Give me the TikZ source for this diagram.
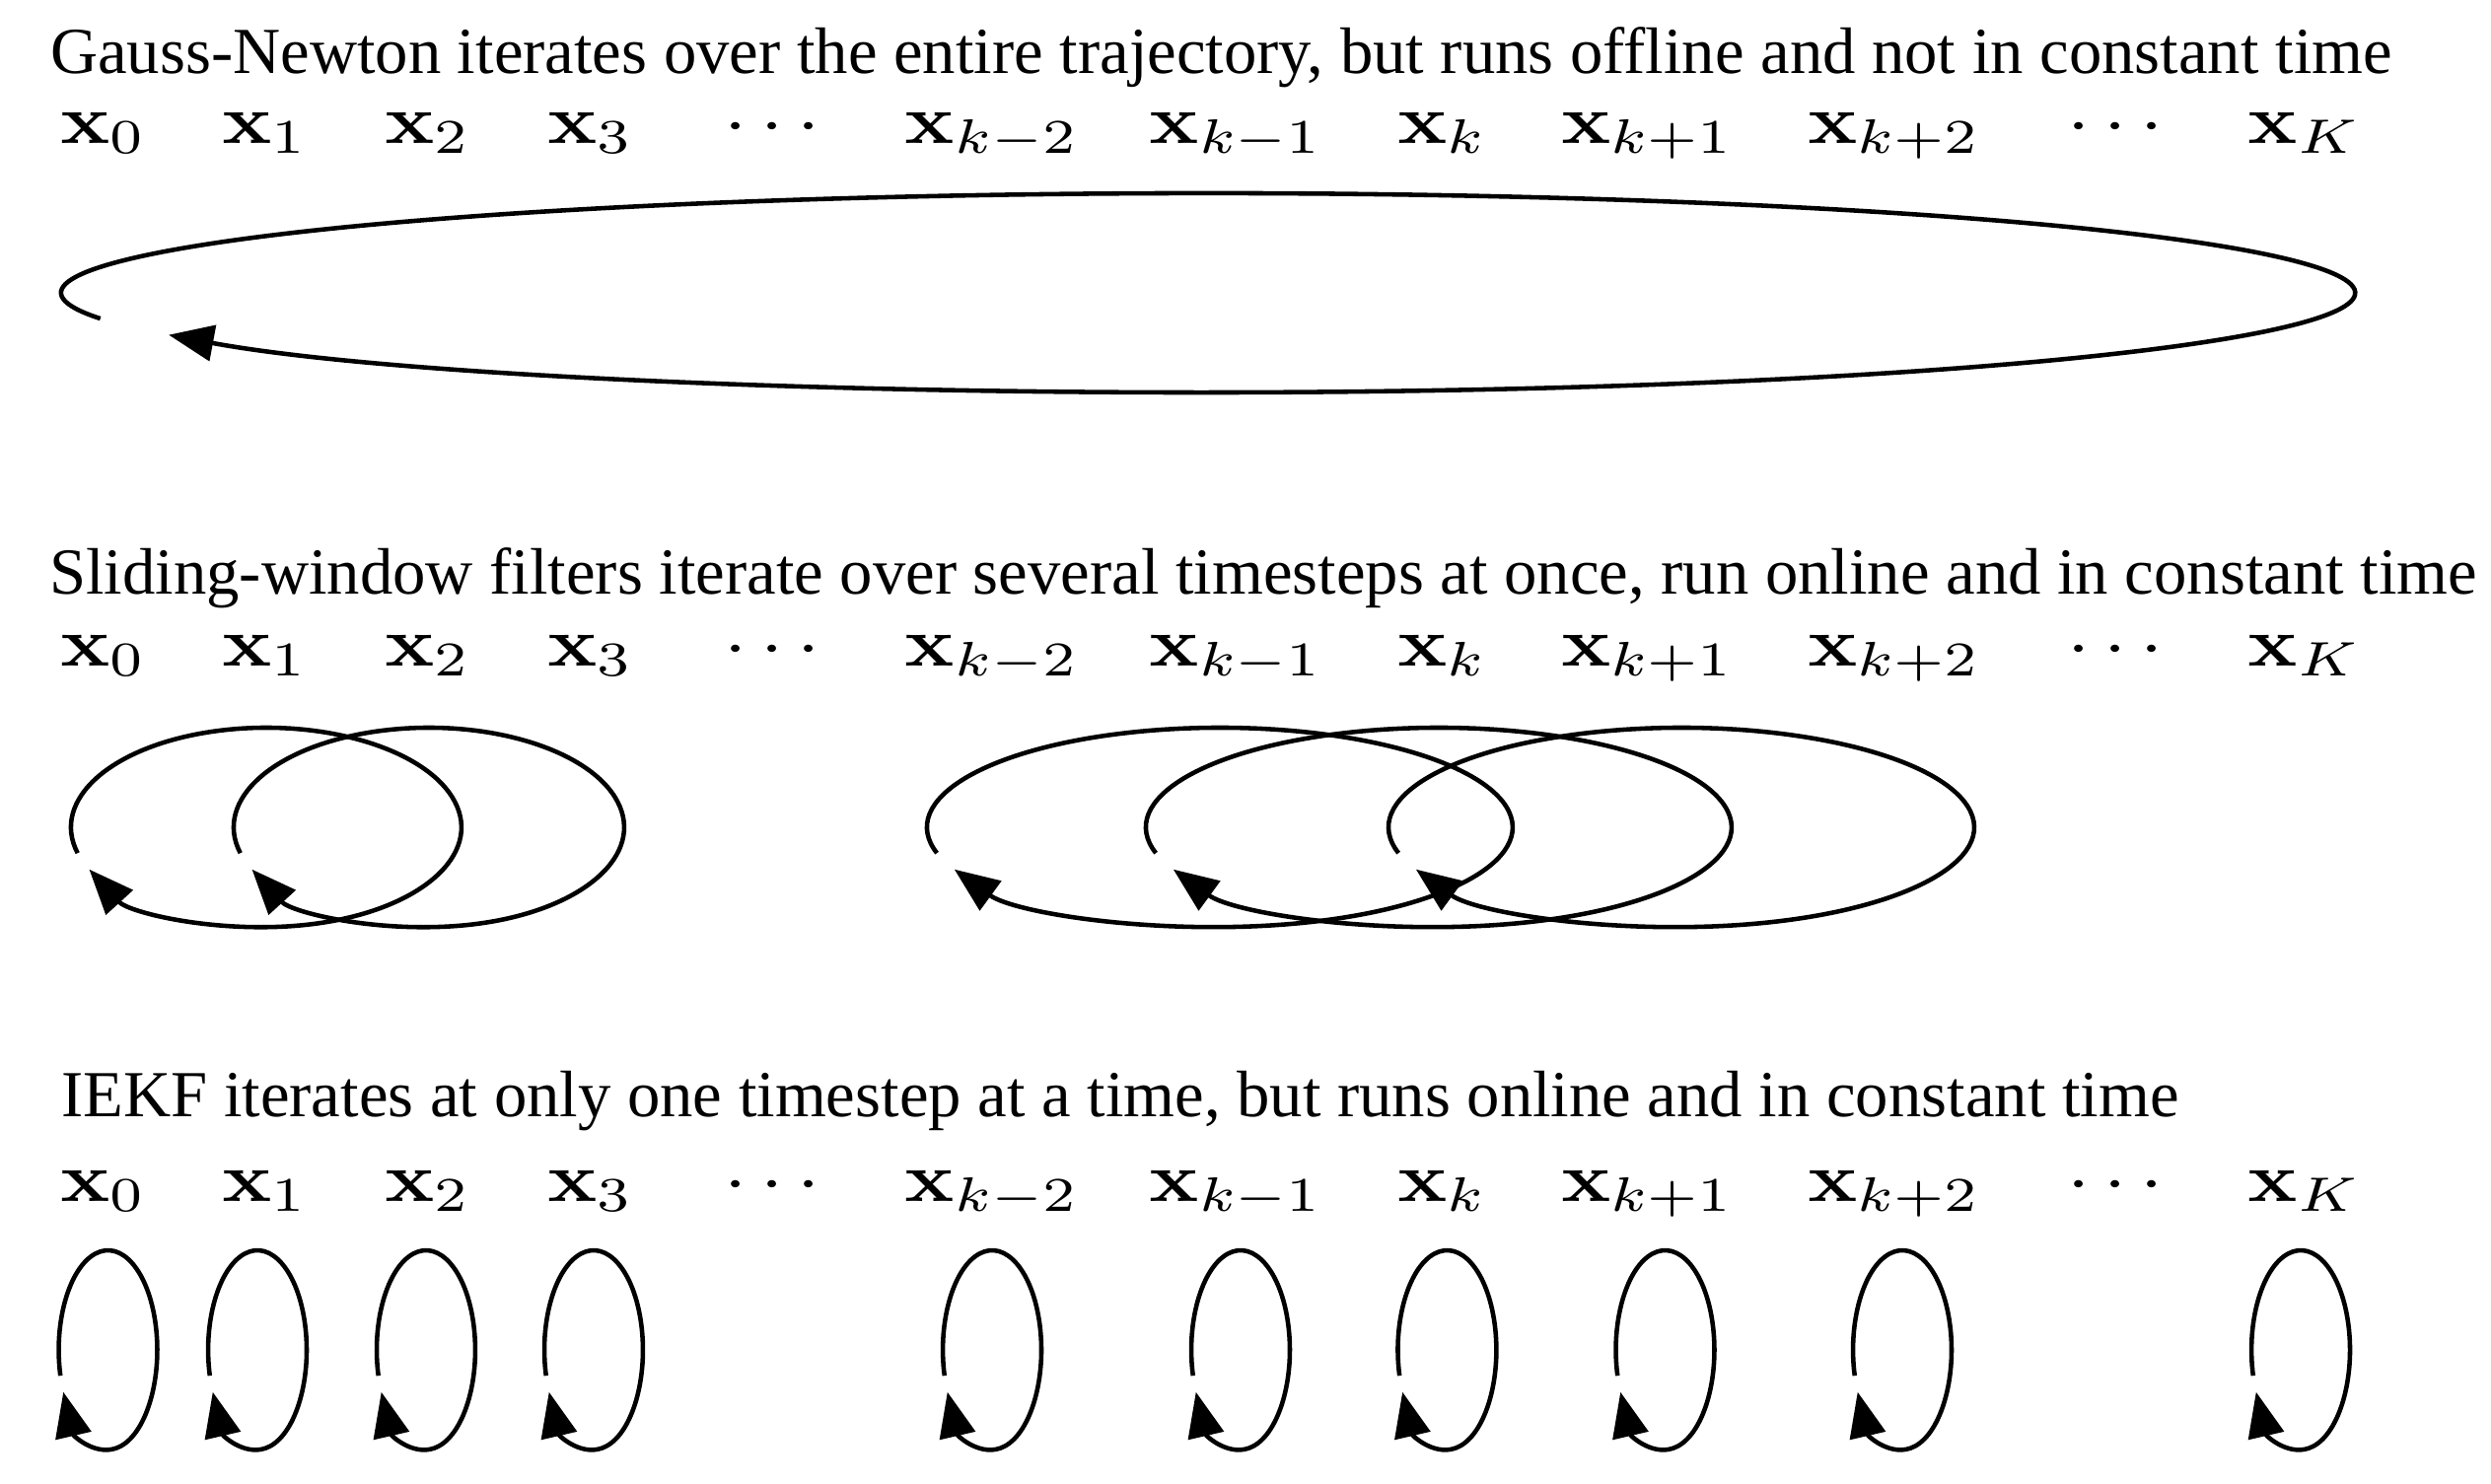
\documentclass[tikz,border=0pt]{standalone}
\usepackage{amsmath}
\usepackage[no-math]{fontspec}
\setmainfont{Liberation Serif}
\usepackage{graphicx}
\usetikzlibrary{arrows.meta}

\newcommand{\xs}[1]{\scalebox{1.28}[1.08]{$\mathbf{x}_{#1}$}}
\newcommand{\dts}{\scalebox{1.28}[1.08]{$\smash{\cdots}$}}
\newcommand{\iterloop}[2]{% centre, x radius
  \draw[iter] (#1) ++(195:#2cm and 0.546cm)
    arc[start angle=195,delta angle=-350,x radius=#2,y radius=0.546];}

\begin{document}
\begin{tikzpicture}[font=\fontsize{10.25}{12}\selectfont,
    iter/.style={line width=0.7pt,-{Triangle[length=7pt,width=5.6pt]}},
    lbl/.style={anchor=base,inner sep=0pt},
    ttl/.style={anchor=base west,inner sep=0pt}]
  \useasboundingbox (0,0) rectangle (13.654,-8.130);

  % Gauss-Newton
  \node[ttl] (gn) at (0.270,-0.400) {Gauss-Newton iterates over the entire trajectory, but runs offline and not in constant time};
  \node[lbl] (gn0) at (0.568,-0.784) {\xs{0}};
  \node[lbl] (gn1) at (1.454,-0.784) {\xs{1}};
  \node[lbl] (gn2) at (2.346,-0.784) {\xs{2}};
  \node[lbl] (gn3) at (3.238,-0.784) {\xs{3}};
  \node[lbl] (gnd1) at (4.232,-0.784) {\dts};
  \node[lbl] (gnkm2) at (5.438,-0.784) {\xs{k-2}};
  \node[lbl] (gnkm1) at (6.778,-0.784) {\xs{k-1}};
  \node[lbl] (gnk) at (7.908,-0.784) {\xs{k}};
  \node[lbl] (gnkp1) at (9.032,-0.784) {\xs{k+1}};
  \node[lbl] (gnkp2) at (10.384,-0.784) {\xs{k+2}};
  \node[lbl] (gnd2) at (11.595,-0.784) {\dts};
  \node[lbl] (gnK) at (12.632,-0.784) {\xs{K}};
  \iterloop{6.622,-1.605}{6.286}

  % sliding window
  \node[ttl] (sw) at (0.265,-3.259) {Sliding-window filters iterate over several timesteps at once, run online and in constant time};
  \node[lbl] (sw0) at (0.568,-3.649) {\xs{0}};
  \node[lbl] (sw1) at (1.454,-3.649) {\xs{1}};
  \node[lbl] (sw2) at (2.346,-3.649) {\xs{2}};
  \node[lbl] (sw3) at (3.238,-3.649) {\xs{3}};
  \node[lbl] (swd1) at (4.232,-3.649) {\dts};
  \node[lbl] (swkm2) at (5.438,-3.649) {\xs{k-2}};
  \node[lbl] (swkm1) at (6.778,-3.649) {\xs{k-1}};
  \node[lbl] (swk) at (7.908,-3.649) {\xs{k}};
  \node[lbl] (swkp1) at (9.032,-3.649) {\xs{k+1}};
  \node[lbl] (swkp2) at (10.384,-3.649) {\xs{k+2}};
  \node[lbl] (swd2) at (11.595,-3.649) {\dts};
  \node[lbl] (swK) at (12.632,-3.649) {\xs{K}};
  \iterloop{1.459,-4.535}{1.070}
  \iterloop{2.351,-4.535}{1.070}
  \iterloop{6.686,-4.535}{1.605}
  \iterloop{7.886,-4.535}{1.605}
  \iterloop{9.216,-4.535}{1.605}

  % IEKF
  \node[ttl] (ie) at (0.330,-6.124) {IEKF iterates at only one timestep at a time, but runs online and in constant time};
  \node[lbl] (ie0) at (0.568,-6.584) {\xs{0}};
  \node[lbl] (ie1) at (1.454,-6.584) {\xs{1}};
  \node[lbl] (ie2) at (2.346,-6.584) {\xs{2}};
  \node[lbl] (ie3) at (3.238,-6.584) {\xs{3}};
  \node[lbl] (ied1) at (4.232,-6.584) {\dts};
  \node[lbl] (iekm2) at (5.438,-6.584) {\xs{k-2}};
  \node[lbl] (iekm1) at (6.778,-6.584) {\xs{k-1}};
  \node[lbl] (iek) at (7.908,-6.584) {\xs{k}};
  \node[lbl] (iekp1) at (9.032,-6.584) {\xs{k+1}};
  \node[lbl] (iekp2) at (10.384,-6.584) {\xs{k+2}};
  \node[lbl] (ied2) at (11.595,-6.584) {\dts};
  \node[lbl] (ieK) at (12.632,-6.584) {\xs{K}};
  \iterloop{0.592,-7.400}{0.270}
  \iterloop{1.411,-7.400}{0.270}
  \iterloop{2.335,-7.400}{0.270}
  \iterloop{3.254,-7.400}{0.270}
  \iterloop{5.438,-7.400}{0.270}
  \iterloop{6.800,-7.400}{0.270}
  \iterloop{7.932,-7.400}{0.270}
  \iterloop{9.127,-7.400}{0.270}
  \iterloop{10.427,-7.400}{0.270}
  \iterloop{12.611,-7.400}{0.270}
\end{tikzpicture}
\end{document}
